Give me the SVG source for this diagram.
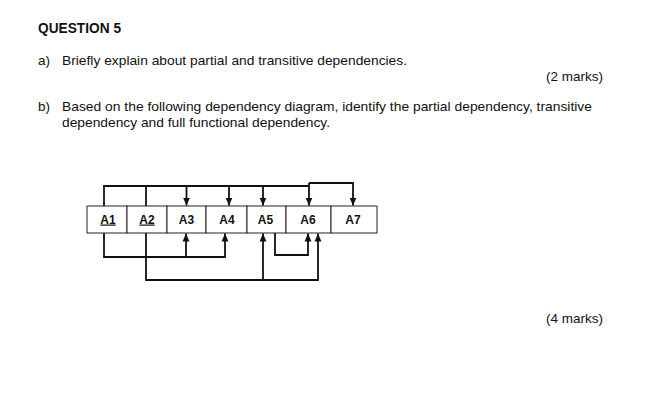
<svg xmlns="http://www.w3.org/2000/svg" width="645" height="401" viewBox="0 0 645 401">
<style>
.t{font-family:"Liberation Sans",Arial,sans-serif;font-size:13.5px;fill:#111}
.h{font-family:"Liberation Sans",Arial,sans-serif;font-size:14px;font-weight:bold;fill:#111}
.lbl{font-family:"Liberation Sans",Arial,sans-serif;font-size:12px;font-weight:bold;fill:#111;text-anchor:middle}
.cell{fill:#fff;stroke:#222;stroke-width:1}
.c{fill:none;stroke:#111;stroke-width:1.8;stroke-linejoin:miter}
</style>
<defs>
<marker id="ah" markerUnits="userSpaceOnUse" markerWidth="8" markerHeight="8" viewBox="0 0 8 8" refX="8" refY="4" orient="auto">
<path d="M0,0.5 L8,4 L0,7.5 Z" fill="#111"/>
</marker>
</defs>
<rect width="645" height="401" fill="#fff"/>
<text class="h" x="38" y="32.5" textLength="83" lengthAdjust="spacingAndGlyphs">QUESTION 5</text>
<text class="t" x="38" y="64.5">a)</text>
<text class="t" x="62" y="64.5" textLength="345" lengthAdjust="spacingAndGlyphs">Briefly explain about partial and transitive dependencies.</text>
<text class="t" x="546" y="80.5" textLength="57" lengthAdjust="spacingAndGlyphs">(2 marks)</text>
<text class="t" x="38" y="111">b)</text>
<text class="t" x="62" y="111" textLength="530" lengthAdjust="spacingAndGlyphs">Based on the following dependency diagram, identify the partial dependency, transitive</text>
<text class="t" x="62" y="127" textLength="268" lengthAdjust="spacingAndGlyphs">dependency and full functional dependency.</text>
<text class="t" x="546" y="323" textLength="57" lengthAdjust="spacingAndGlyphs">(4 marks)</text>
<g id="A1"><rect class="cell" x="87" y="206" width="40" height="27"/><text class="lbl" x="108" y="223.5" text-decoration="underline">A1</text></g>
<g id="A2"><rect class="cell" x="127" y="206" width="40" height="27"/><text class="lbl" x="147" y="223.5" text-decoration="underline">A2</text></g>
<g id="A3"><rect class="cell" x="167" y="206" width="39" height="27"/><text class="lbl" x="186.5" y="223.5">A3</text></g>
<g id="A4"><rect class="cell" x="206" y="206" width="41" height="27"/><text class="lbl" x="227" y="223.5">A4</text></g>
<g id="A5"><rect class="cell" x="247" y="206" width="39" height="27"/><text class="lbl" x="265.5" y="223.5">A5</text></g>
<g id="A6"><rect class="cell" x="286" y="206" width="45" height="27"/><text class="lbl" x="308" y="223.5">A6</text></g>
<g id="A7"><rect class="cell" x="331" y="206" width="46" height="27"/><text class="lbl" x="353" y="223.5">A7</text></g>
<g id="connectors">
<path class="c" d="M104,206 V186 H309"/>
<path class="c" d="M146,206 V186"/>
<path class="c" d="M186.5,186 V205.5" marker-end="url(#ah)"/>
<path class="c" d="M229,186 V205.5" marker-end="url(#ah)"/>
<path class="c" d="M263,186 V205.5" marker-end="url(#ah)"/>
<path class="c" d="M309,183 V205.5" marker-end="url(#ah)"/>
<path class="c" d="M309,183 H353 V205.5" marker-end="url(#ah)"/>
<path class="c" d="M104,233 V257 H225 V233.5" marker-end="url(#ah)"/>
<path class="c" d="M186,257 V233.5" marker-end="url(#ah)"/>
<path class="c" d="M275,233 V255 H308 V233.5" marker-end="url(#ah)"/>
<path class="c" d="M146,233 V280 H318 V233.5" marker-end="url(#ah)"/>
<path class="c" d="M263,280 V233.5" marker-end="url(#ah)"/>
</g>
</svg>
